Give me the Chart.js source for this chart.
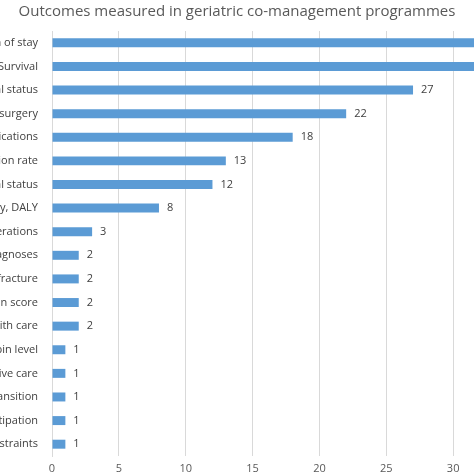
<!DOCTYPE html>
<html><head><meta charset="utf-8">
<script src="https://cdn.jsdelivr.net/npm/chart.js@4"></script>
<style>
html,body{margin:0;padding:0;background:#fff;overflow:hidden;width:474px;height:474px;}
#wrap{position:absolute;left:0;top:0;width:474px;height:474px;overflow:hidden;}
#c{position:absolute;left:-98px;top:0;}
#t{position:absolute;left:0;top:0;width:474px;text-align:center;font:15px "Open Sans",Calibri,sans-serif;color:#595959;line-height:20px;}
</style></head><body>
<div id="wrap"><canvas id="c" width="640" height="474" style="width:640px;height:474px"></canvas>
<div id="t">Outcomes measured in geriatric co-management programmes</div></div>
<script>
const categories=["Length of stay","Survival","Residential status","Time to surgery","Complications","Readmission rate","Functional status","Quality, DALY","Re-operations","New diagnoses","Secondary fracture","Pain score","Satisfaction with care","Haemoglobin level","Intensive care","Care transition","Constipation","Physical restraints"];
const values=[35,33,27,22,18,13,12,8,3,2,2,2,2,1,1,1,1,1];
const xTicks=[0,5,10,15,20,25,30,35];
const labelsPlugin={id:'vl',afterDatasetsDraw(ch){const ctx=ch.ctx;const m=ch.getDatasetMeta(0);ctx.save();ctx.fillStyle='#404040';ctx.font='11px "Open Sans",sans-serif';ctx.textBaseline='middle';m.data.forEach((b,i)=>{ctx.fillText(values[i],b.x+8,b.y);});ctx.restore();}};
new Chart(document.getElementById('c'),{type:'bar',
data:{labels:categories,datasets:[{data:values,backgroundColor:'#5b9bd5',barPercentage:0.38,categoryPercentage:1}]},
options:{indexAxis:'y',responsive:false,animation:false,layout:{padding:{top:31,right:22,left:0,bottom:0}},
plugins:{legend:{display:false},tooltip:{enabled:false}},
scales:{x:{min:0,max:35,afterFit(s){s.height=18;},afterBuildTicks(s){s.ticks=xTicks.map(v=>({value:v}));},grid:{color:'#d9d9d9',drawTicks:false},border:{display:false},ticks:{color:'#595959',font:{size:11,family:'"Open Sans"'},padding:6}},
y:{afterFit(s){s.width=150;},grid:{display:false},border:{color:'#d9d9d9'},ticks:{color:'#404040',font:{size:11,family:'"Open Sans"'},padding:6}}}},
plugins:[labelsPlugin]});
</script></body></html>
